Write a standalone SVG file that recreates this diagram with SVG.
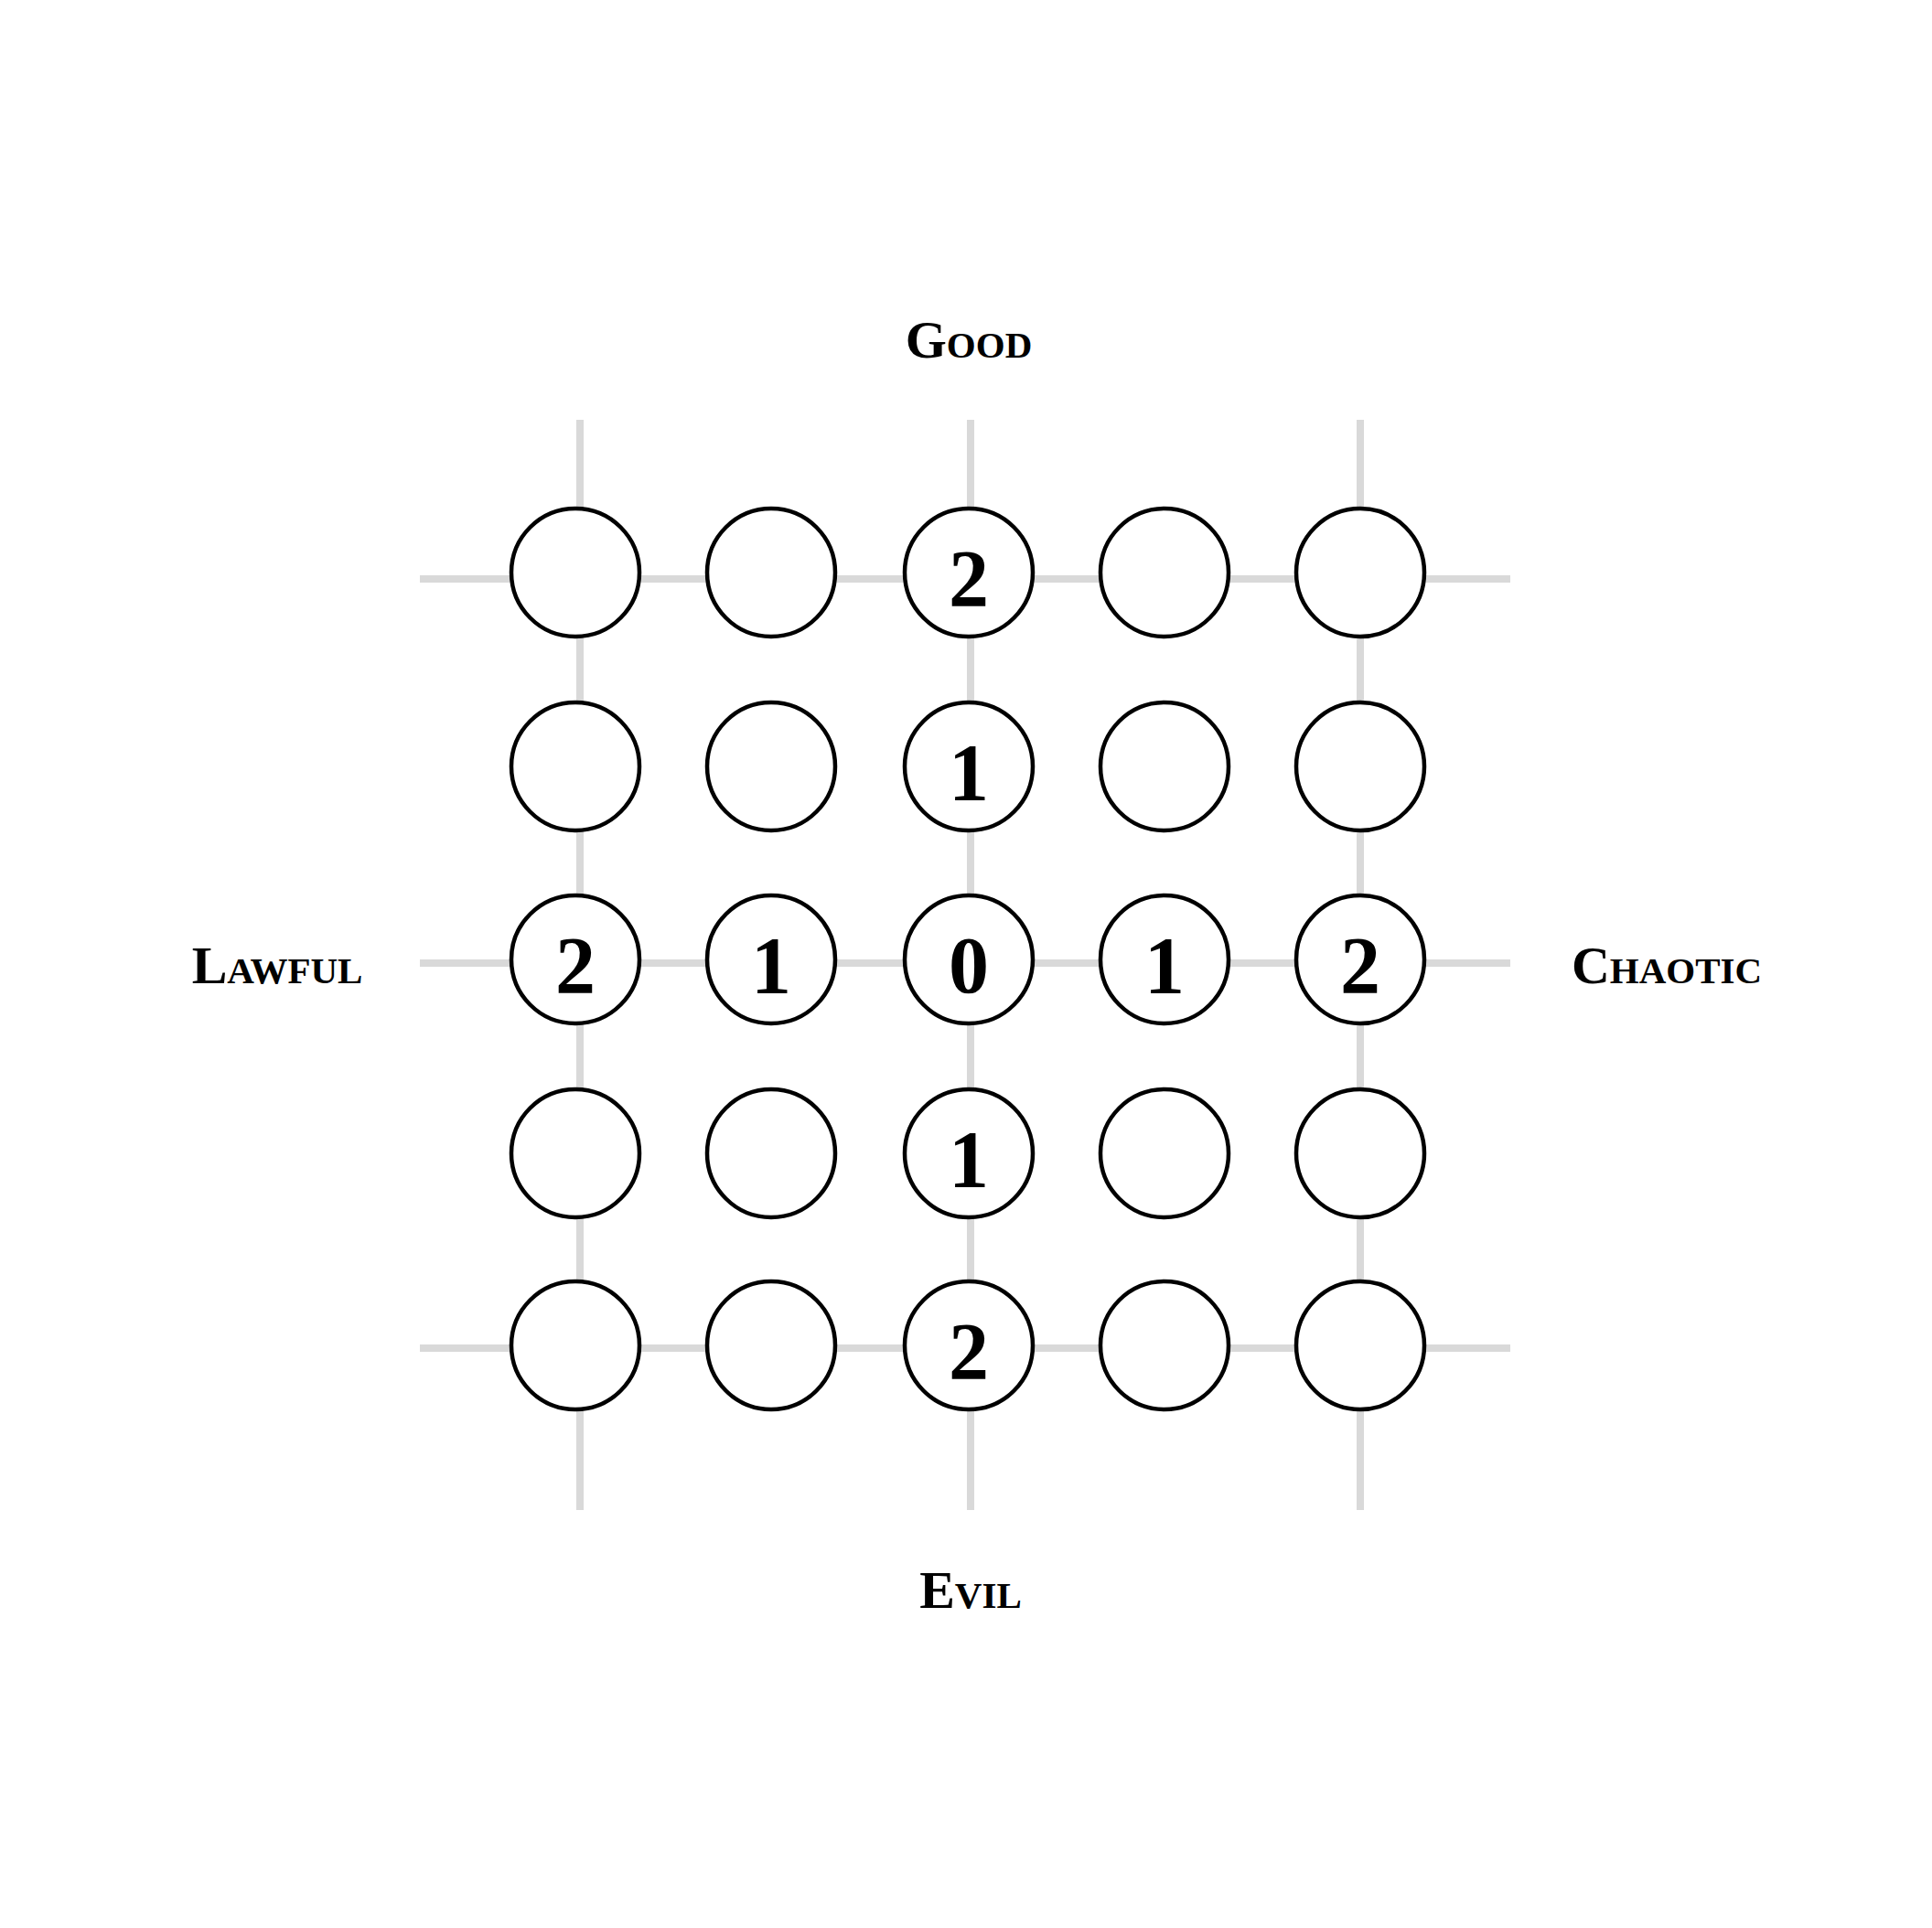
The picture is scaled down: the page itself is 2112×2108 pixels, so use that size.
<svg xmlns="http://www.w3.org/2000/svg" width="2112" height="2108" viewBox="0 0 2112 2108">
<style>
.g{stroke:#d9d9d9;stroke-width:8;fill:none}
.c{fill:#fff;stroke:#000;stroke-width:4.5}
.n{font-family:"Liberation Serif",serif;font-weight:bold;font-size:88px;text-anchor:middle}
.l{font-family:"Liberation Serif",serif;font-weight:bold;font-size:58px;font-variant:small-caps;text-anchor:middle}
</style>
<rect width="2112" height="2108" fill="#fff"/>
<g id="connectors">
<path class="g" d="M634 459V1651M1061 459V1651M1487 459V1651M459 633H1651M459 1053H1651M459 1474H1651"/>
</g>
<g id="nodes">
<g id="r1"><circle class="c" cx="629" cy="626" r="70"/><circle class="c" cx="843" cy="626" r="70"/><circle class="c" cx="1059" cy="626" r="70"/><text class="n" x="1059" y="662">2</text><circle class="c" cx="1273" cy="626" r="70"/><circle class="c" cx="1487" cy="626" r="70"/></g>
<g id="r2"><circle class="c" cx="629" cy="838" r="70"/><circle class="c" cx="843" cy="838" r="70"/><circle class="c" cx="1059" cy="838" r="70"/><text class="n" x="1059" y="874">1</text><circle class="c" cx="1273" cy="838" r="70"/><circle class="c" cx="1487" cy="838" r="70"/></g>
<g id="r3"><circle class="c" cx="629" cy="1049" r="70"/><text class="n" x="629" y="1085">2</text><circle class="c" cx="843" cy="1049" r="70"/><text class="n" x="843" y="1085">1</text><circle class="c" cx="1059" cy="1049" r="70"/><text class="n" x="1059" y="1085">0</text><circle class="c" cx="1273" cy="1049" r="70"/><text class="n" x="1273" y="1085">1</text><circle class="c" cx="1487" cy="1049" r="70"/><text class="n" x="1487" y="1085">2</text></g>
<g id="r4"><circle class="c" cx="629" cy="1261" r="70"/><circle class="c" cx="843" cy="1261" r="70"/><circle class="c" cx="1059" cy="1261" r="70"/><text class="n" x="1059" y="1297">1</text><circle class="c" cx="1273" cy="1261" r="70"/><circle class="c" cx="1487" cy="1261" r="70"/></g>
<g id="r5"><circle class="c" cx="629" cy="1471" r="70"/><circle class="c" cx="843" cy="1471" r="70"/><circle class="c" cx="1059" cy="1471" r="70"/><text class="n" x="1059" y="1507">2</text><circle class="c" cx="1273" cy="1471" r="70"/><circle class="c" cx="1487" cy="1471" r="70"/></g>
</g>
<g id="labels">
<text class="l" x="1059" y="391">Good</text>
<text class="l" x="1061" y="1758">Evil</text>
<text class="l" x="303" y="1075">Lawful</text>
<text class="l" x="1822" y="1075">Chaotic</text>
</g>
</svg>
